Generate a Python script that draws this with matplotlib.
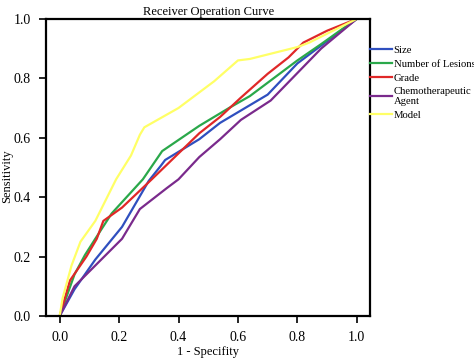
import matplotlib
matplotlib.use('Agg')
import matplotlib.pyplot as plt

plt.rcParams['font.family'] = 'Liberation Serif'

# curve points (1 - specificity, sensitivity)
size_x = [0, 0.05, 0.12, 0.21, 0.30, 0.34, 0.355, 0.47, 0.54, 0.70, 0.80, 0.88, 1.0]
size_y = [0, 0.09, 0.19, 0.30, 0.455, 0.505, 0.525, 0.595, 0.65, 0.745, 0.85, 0.91, 1.0]

lesions_x = [0, 0.05, 0.085, 0.12, 0.175, 0.28, 0.345, 0.47, 0.57, 0.64, 0.72, 0.80, 0.88, 0.95, 1.0]
lesions_y = [0, 0.14, 0.205, 0.26, 0.345, 0.46, 0.555, 0.64, 0.70, 0.74, 0.80, 0.86, 0.915, 0.965, 1.0]

grade_x = [0, 0.035, 0.09, 0.125, 0.147, 0.21, 0.31, 0.47, 0.54, 0.61, 0.70, 0.77, 0.82, 0.90, 1.0]
grade_y = [0, 0.12, 0.20, 0.26, 0.32, 0.365, 0.46, 0.615, 0.67, 0.735, 0.815, 0.87, 0.92, 0.96, 1.0]

chemo_x = [0, 0.05, 0.13, 0.21, 0.27, 0.36, 0.40, 0.47, 0.54, 0.61, 0.71, 0.88, 1.0]
chemo_y = [0, 0.10, 0.18, 0.26, 0.36, 0.43, 0.46, 0.535, 0.595, 0.66, 0.725, 0.90, 1.0]

model_x = [0, 0.01, 0.04, 0.07, 0.12, 0.14, 0.19, 0.24, 0.27, 0.285, 0.40, 0.52, 0.60, 0.64, 0.80, 0.84, 0.95, 1.0]
model_y = [0, 0.06, 0.17, 0.25, 0.32, 0.36, 0.46, 0.54, 0.61, 0.635, 0.70, 0.79, 0.86, 0.865, 0.905, 0.92, 0.975, 1.0]

fig = plt.figure(figsize=(4.74, 3.62), dpi=100)
ax = fig.add_axes([0.097, 0.127, 0.684, 0.821])

lw = 1.6
ax.plot(size_x, size_y, color='#2f4fbf', lw=lw, label='Size')
ax.plot(lesions_x, lesions_y, color='#2aa84a', lw=lw, label='Number of Lesions')
ax.plot(grade_x, grade_y, color='#e02828', lw=lw, label='Grade')
ax.plot(chemo_x, chemo_y, color='#7a2a8c', lw=lw, label='Chemotherapeutic\nAgent')
ax.plot(model_x, model_y, color='#ffff66', lw=lw, label='Model')

ax.set_xlim(-0.046, 1.045)
ax.set_ylim(0, 1.0)
ax.set_xticks([0, 0.2, 0.4, 0.6, 0.8, 1.0])
ax.set_yticks([0, 0.2, 0.4, 0.6, 0.8, 1.0])
ax.set_xticklabels(['0.0', '0.2', '0.4', '0.6', '0.8', '1.0'])
ax.set_yticklabels(['0.0', '0.2', '0.4', '0.6', '0.8', '1.0'])
ax.tick_params(direction='out', length=5, width=1.2, labelsize=10, pad=6)
for s in ax.spines.values():
    s.set_linewidth(1.6)

ax.set_title('Receiver Operation Curve', fontsize=9, pad=3)
ax.set_xlabel('1 - Specifity', fontsize=9)
ax.set_ylabel('Sensitivity', fontsize=9)
ax.xaxis.set_label_coords(0.5, -0.1)
ax.yaxis.set_label_coords(-0.1, 0.47)

ax.legend(loc='upper left', bbox_to_anchor=(1.0, 0.91), frameon=False,
          fontsize=7.7, handlelength=2.05, handletextpad=0.15, borderaxespad=0,
          labelspacing=0.4, borderpad=0)

fig.savefig('out.png', dpi=100)
